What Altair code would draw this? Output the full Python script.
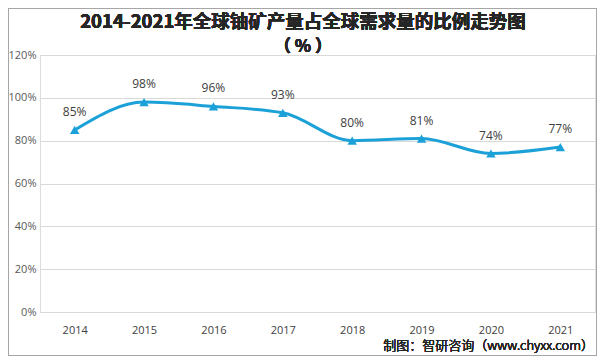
import altair as alt
import pandas as pd

years = ["2014", "2015", "2016", "2017", "2018", "2019", "2020", "2021"]
values = [85, 98, 96, 93, 80, 81, 74, 77]
labels = ["85%", "98%", "96%", "93%", "80%", "81%", "74%", "77%"]

df = pd.DataFrame({"year": years, "value": values, "label": labels})

W, H = 555, 257
PL, PT = 32, 47
PB = 348 - PT - H
PR = 589 - PL - W
color = "#1BA1D8"

x = alt.X("year:N", sort=years, title=None,
          axis=alt.Axis(labelAngle=0, labelColor="#404040", labelFontSize=11,
                        labelFont="Open Sans", ticks=False, domain=False,
                        labelPadding=12))
y = alt.Y("value:Q", title=None,
          scale=alt.Scale(domain=[0, 120]),
          axis=alt.Axis(values=[0, 20, 40, 60, 80, 100, 120],
                        labelExpr="datum.value + '%'",
                        labelColor="#595959", labelFontSize=11, labelFont="Open Sans",
                        ticks=False, domain=False, gridColor="#D9D9D9",
                        labelPadding=4))

base = alt.Chart(df)
line = base.mark_line(color=color, strokeWidth=3, interpolate="monotone").encode(x=x, y=y)
pts = base.mark_point(shape="triangle-up", filled=True, color=color, size=90, opacity=1).encode(x=x, y=y)
txt = base.mark_text(dy=-18, fontSize=12, color="#404040", font="Open Sans").encode(
    x=x, y=y, text="label:N")

cx = 303 - PL - 8
title1 = alt.Chart(df).mark_text(fontSize=18.5, fontWeight="bold", color="#262626",
                                 font="Noto Sans CJK SC").encode(
    x=alt.value(cx), y=alt.value(22 - PT - 8), text=alt.value("2014-2021年全球铀矿产量占全球需求量的比例走势图"))
title2 = alt.Chart(df).mark_text(fontSize=17, fontWeight="bold", color="#262626",
                                 font="Noto Sans CJK SC").encode(
    x=alt.value(cx), y=alt.value(47 - PT - 8), text=alt.value("（ % ）"))
source = alt.Chart(df).mark_text(fontSize=13, color="#262626", align="right", baseline="middle",
                                 fontWeight=300, font="Noto Sans CJK SC").encode(
    x=alt.value(594 - PL - 8), y=alt.value(346 - PT - 8), text=alt.value("制图：智研咨询（www.chyxx.com）"))
border = alt.Chart(df).mark_rect(fill=None, stroke="#A6A6A6", strokeWidth=1).encode(
    x=alt.value(-PL + 0.5), x2=alt.value(W + PR - 0.5),
    y=alt.value(-PT + 0.5), y2=alt.value(H + PB - 0.5))

chart = alt.layer(line, pts, txt, title1, title2, source, border).properties(
    width=W, height=H,
    autosize=alt.AutoSizeParams(type="none"),
    padding={"left": PL, "top": PT, "right": PR, "bottom": PB},
).configure_view(stroke=None).configure(background="white")

chart.save("out.html", embed_options={"renderer": "svg", "actions": False})
